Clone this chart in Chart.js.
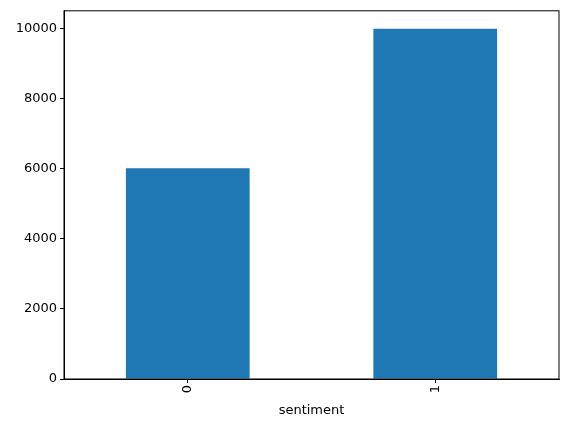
<!DOCTYPE html>
<html>
<head>
<script src="https://cdn.jsdelivr.net/npm/chart.js@4"></script>
<style>
  html, body { margin: 0; padding: 0; background: #fff; }
  #wrap { width: 569px; height: 427px; }
</style>
</head>
<body>
<div id="wrap"><canvas id="chart1"></canvas></div>
<script>
const categories = ['0', '1'];
const counts = [6010, 9990];
const yTicks = [0, 2000, 4000, 6000, 8000, 10000];

const ctx1 = document.getElementById('chart1');

new Chart(ctx1, {
  type: 'bar',
  data: {
    labels: categories,
    datasets: [{
      data: counts,
      backgroundColor: '#1f77b4',
      borderWidth: 0,
      barPercentage: 0.5,
      categoryPercentage: 1
    }]
  },
  options: {
    responsive: true,
    maintainAspectRatio: false,
    animation: false,
    layout: { padding: { top: 10, right: 10, bottom: 9, left: 0 } },
    plugins: { legend: { display: false }, tooltip: { enabled: false } },
    scales: {
      x: {
        offset: true,
        afterFit: (axis) => { axis.height = 39; },
        grid: { drawOnChartArea: false, drawTicks: true, tickLength: 4, color: '#000', offset: false },
        border: { color: '#000' },
        ticks: {
          color: '#000', font: { family: 'DejaVu Sans', size: 13 },
          maxRotation: 90, minRotation: 90, padding: 2
        },
        title: {
          display: true, text: 'sentiment', color: '#000',
          font: { family: 'DejaVu Sans', size: 13 }, padding: { top: 0, bottom: 0 }
        }
      },
      y: {
        min: 0,
        max: 10500,
        afterFit: (axis) => { axis.width = 64; },
        afterBuildTicks: (axis) => { axis.ticks = yTicks.map(v => ({ value: v })); },
        grid: { drawOnChartArea: false, drawTicks: true, tickLength: 4, color: '#000' },
        border: { color: '#000' },
        ticks: {
          color: '#000', font: { family: 'DejaVu Sans', size: 13 }, padding: 3,
          callback: (v) => String(v)
        }
      }
    }
  },
  plugins: [{
    id: 'frame',
    afterDraw(chart) {
      const a = chart.chartArea, c = chart.ctx;
      c.save();
      c.strokeStyle = '#000';
      c.lineWidth = 1;
      c.strokeRect(a.left, a.top, a.right - a.left, a.bottom - a.top);
      c.restore();
    }
  }]
});
</script>
</body>
</html>
